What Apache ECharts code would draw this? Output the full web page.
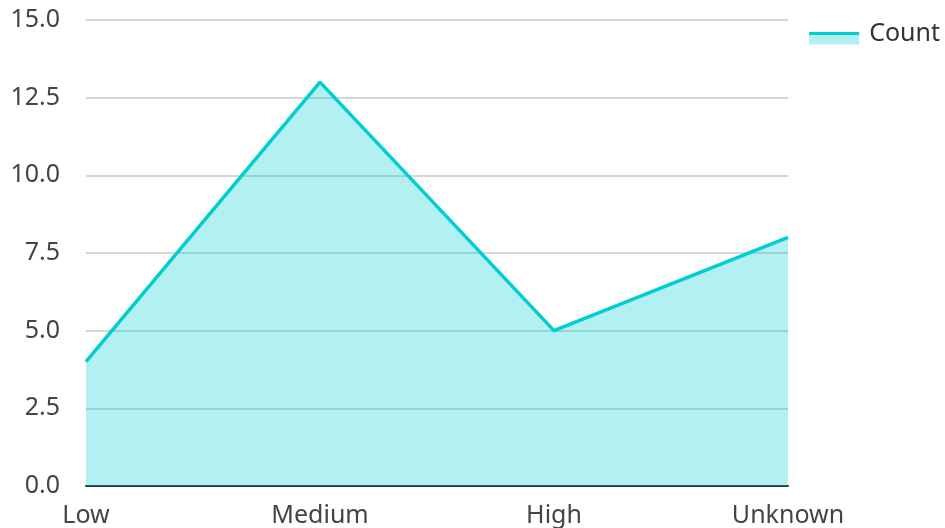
<!DOCTYPE html>
<html>
<head>
<meta charset="utf-8">
<script src="https://cdn.jsdelivr.net/npm/echarts@6/dist/echarts.min.js"></script>
<style>
  html, body { margin: 0; padding: 0; background: #fff; }
  #chart { width: 945px; height: 528px; }
</style>
</head>
<body>
<div id="chart"></div>
<script>
const categories = ['Low', 'Medium', 'High', 'Unknown']
const counts = [4, 13, 5, 8]
const seriesName = 'Count'

const lineColor = '#00ced1'
const fillColor = '#b2f0f1'

const chart = echarts.init(document.getElementById('chart'))
chart.setOption({
    animation: false,
    textStyle: { fontFamily: 'Noto Sans' },
    legend: {
        right: 0,
        top: 16,
        icon: 'rect',
        itemWidth: 50,
        itemHeight: 22,
        itemGap: 10,
        itemStyle: {
            // line on top, light area below, sitting a bit lower than the text
            color: new echarts.graphic.LinearGradient(0, 0, 0, 1, [
                { offset: 0, color: 'rgba(255,255,255,0)' },
                { offset: 0.41, color: 'rgba(255,255,255,0)' },
                { offset: 0.41, color: lineColor },
                { offset: 0.57, color: lineColor },
                { offset: 0.57, color: fillColor },
                { offset: 1, color: fillColor }
            ])
        },
        textStyle: { fontSize: 25, color: '#333', fontFamily: 'Noto Sans', padding: [0, 0, 0, 5] },
        data: [seriesName]
    },
    grid: { left: 86, right: 157, top: 20, bottom: 41 },
    xAxis: {
        type: 'category',
        data: categories,
        boundaryGap: false,
        axisLine: { lineStyle: { color: '#333', width: 2 } },
        axisTick: { show: false },
        axisLabel: { fontSize: 25, color: '#444', margin: 17 }
    },
    yAxis: {
        type: 'value',
        min: 0,
        max: 15,
        interval: 2.5,
        axisLabel: {
            fontSize: 25, color: '#444', margin: 26,
            formatter: v => v.toFixed(1)
        },
        splitLine: { lineStyle: { color: '#c8c8c8', width: 1.5 } }
    },
    series: [{
        name: seriesName,
        type: 'line',
        data: counts,
        showSymbol: false,
        symbol: 'none',
        lineStyle: { color: lineColor, width: 3.5 },
        itemStyle: { color: lineColor },
        areaStyle: { color: lineColor, opacity: 0.3 }
    }]
})
</script>
</body>
</html>
